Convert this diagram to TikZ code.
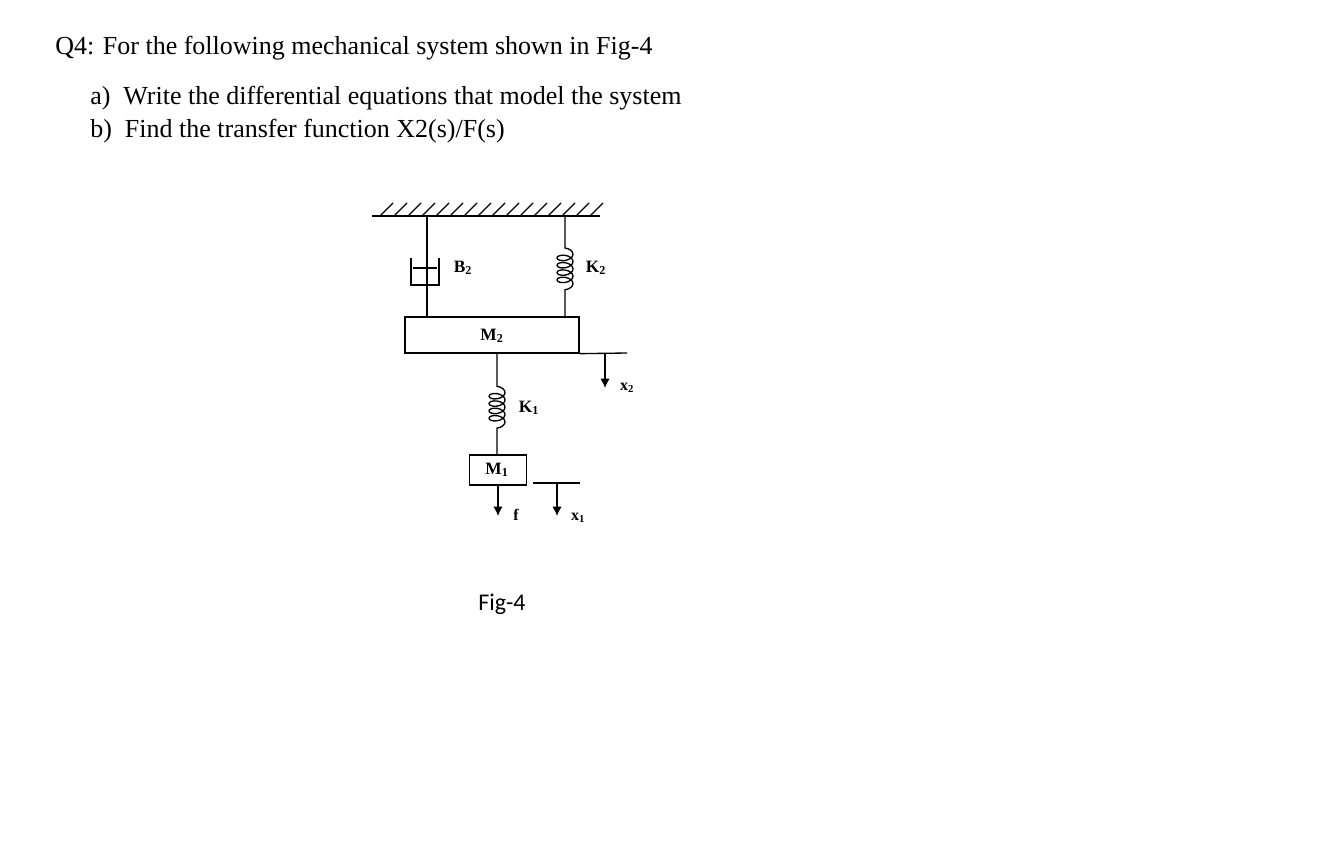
\documentclass[tikz,border=0pt]{standalone}
\usepackage{fontspec}
\setmainfont{Liberation Serif}
\newfontfamily\figfont{Carlito}
\usetikzlibrary{arrows.meta,decorations.pathmorphing}
\begin{document}
\begin{tikzpicture}[x=0.75pt,y=-0.75pt,
  ln/.style={line width=1pt},
  lbl/.style={font=\fontsize{13}{14}\selectfont\bfseries,inner sep=0pt},
  sm/.style={font=\fontsize{12}{13}\selectfont\bfseries,inner sep=0pt},
  q/.style={font=\fontsize{19.5}{22}\selectfont,anchor=west,inner sep=0pt},
  arr/.style={ln,-{Latex[length=7pt,width=7pt]}},
  spr/.style={ln,decorate,decoration={coil,aspect=0.55,segment length=5.5pt,amplitude=6pt}}]
\useasboundingbox (0,0) rectangle (1334,848);
\node[q] (t1) at (55,48) {Q4: For the following mechanical system shown in Fig-4};
\node[q] (t2) at (90,98) {a)\enspace Write the differential equations that model the system};
\node[q] (t3) at (90,131) {b)\enspace Find the transfer function X2(s)/F(s)};
% ceiling
\draw[ln] (372,216) -- (600,216);
\foreach \i in {0,...,15} \draw[ln] (380+\i*14,216) -- (393+\i*14,203);
% dashpot
\coordinate (dtop) at (427,216);
\coordinate (dbot) at (427,317);
\draw[ln] (dtop) -- (dbot);
\draw[ln] (411,258) -- (411,285) -- (439,285) -- (439,258);
\draw[ln] (413,268) -- (437,268);
\node[lbl] (b2) at (463,268) {B$_{\mathbf 2}$};
% K2 spring
\coordinate (k2t) at (565,216);
\coordinate (k2b) at (565,317);
\draw[spr,decoration={pre length=24pt,post length=20pt}] (k2t) -- (k2b);
\node[lbl] (k2) at (596,268) {K$_{\mathbf 2}$};
% M2
\node[draw,ln,minimum width=174*0.75pt,minimum height=36*0.75pt,inner sep=0pt] (m2) at (492,335) {};
\node[lbl] (m2l) at (492,336) {M$_{\mathbf 2}$};
\coordinate (x2e) at (627,353);
\draw[ln] (m2.south east) -- (x2e);
\coordinate (x2a) at (605,353);
\coordinate (x2b) at (605,388);
\draw[arr] (x2a) -- (x2b);
\node[sm] (x2) at (627,388) {x$_{\mathbf 2}$};
% K1 and M1
\node[draw,ln,minimum width=57*0.75pt,minimum height=30*0.75pt,inner sep=0pt] (m1) at (498,470) {};
\node[lbl] (m1l) at (497,470) {M$_{\mathbf 1}$};
\draw[spr,decoration={pre length=25pt,post length=17pt}] (497,353) -- (m1.north -| 497,0);
\node[lbl] (k1) at (529,408) {K$_{\mathbf 1}$};
% f
\coordinate (fb) at (498,516);
\draw[arr] (m1.south) -- (fb);
\node[sm] (f) at (516,515) {f};
% x1
\coordinate (x1l) at (533,483);
\coordinate (x1r) at (580,483);
\draw[ln] (x1l) -- (x1r);
\coordinate (x1a) at (557,483);
\coordinate (x1b) at (557,516);
\draw[arr] (x1a) -- (x1b);
\node[sm] (x1) at (578,518) {x$_{\mathbf 1}$};
\node[font=\figfont\fontsize{18}{20}\selectfont,inner sep=0pt] (fig) at (502,604) {Fig-4};
\end{tikzpicture}
\end{document}
